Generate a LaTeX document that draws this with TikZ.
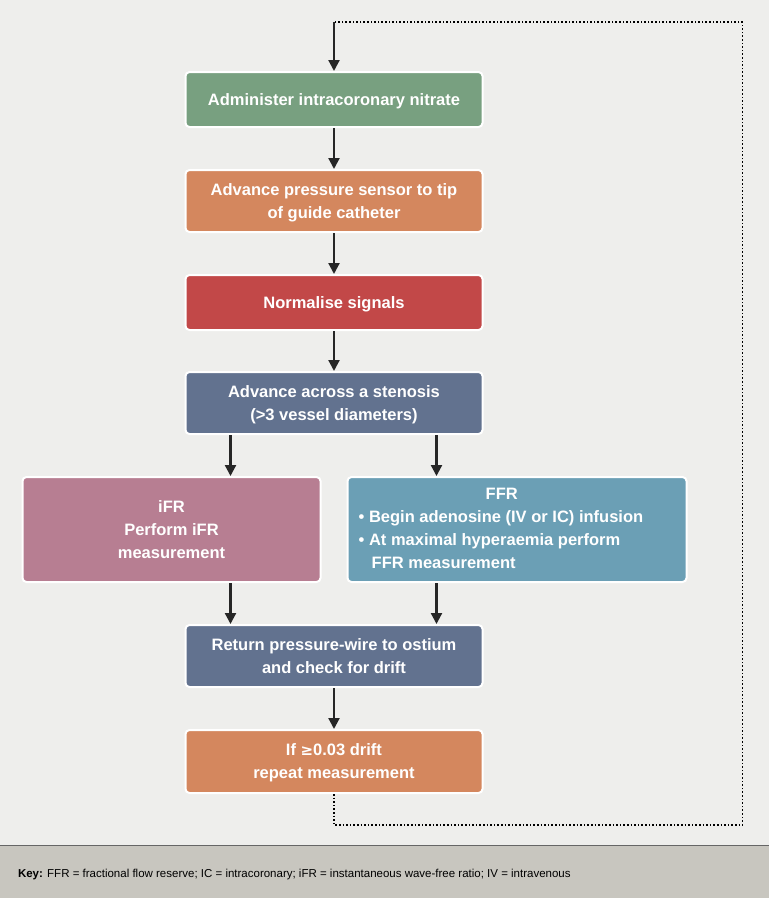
\documentclass[tikz,border=0pt]{standalone}
\usepackage{fontspec}
\setmainfont{Liberation Sans}
\usetikzlibrary{arrows.meta}
\definecolor{bg}{HTML}{EEEEEC}
\definecolor{keybg}{HTML}{C8C6BF}
\definecolor{cgreen}{HTML}{78A080}
\definecolor{corange}{HTML}{D4875E}
\definecolor{cred}{HTML}{C24848}
\definecolor{cblue}{HTML}{62728F}
\definecolor{cpink}{HTML}{B77E92}
\definecolor{cteal}{HTML}{6B9FB5}
\begin{document}
\begin{tikzpicture}[x=1pt,y=-1pt,
 bf/.style={font=\bfseries\fontsize{16.5}{23}\selectfont},
 box/.style={draw=white,line width=2pt,rounded corners=4pt,text=white,bf,align=center,inner sep=0pt,text depth=0pt},
 arr/.style={-{Triangle[length=11pt,width=11pt]},line width=2.2pt,black!85}]
\fill[bg] (0,0) rectangle (768,898);
\fill[keybg] (0,845) rectangle (768,898);
\draw[line width=1pt,black!60] (0,845) -- (768,845);
\node[anchor=west,font=\fontsize{11.5}{13}\selectfont] (key) at (14,875) {\textbf{Key:} FFR = fractional flow reserve; IC = intracoronary; iFR = instantaneous wave-free ratio; IV = intravenous};
\node[box,fill=cgreen,minimum width=297pt,minimum height=55pt] (b1) at (333.5,99.5) {Administer intracoronary nitrate};
\node[box,fill=corange,minimum width=297pt,minimum height=62pt] (b2) at (333.5,201) {Advance pressure sensor to tip\\of guide catheter};
\node[box,fill=cred,minimum width=297pt,minimum height=55pt] (b3) at (333.5,302.5) {Normalise signals};
\node[box,fill=cblue,minimum width=297pt,minimum height=62pt] (b4) at (333.5,403) {Advance across a stenosis\\(>3 vessel diameters)};
\node[box,fill=cpink,minimum width=298pt,minimum height=105pt] (b5) at (171,529.5) {iFR\\Perform iFR\\measurement};
\node[box,fill=cteal,minimum width=339pt,minimum height=105pt] (b6) at (516.5,529.5) {};
\node[text=white,bf,align=left,anchor=north west,inner sep=0pt] (b6t) at (358,488) {\hspace*{127pt}FFR\\• Begin adenosine (IV or IC) infusion\\• At maximal hyperaemia perform\\\hspace*{13pt}FFR measurement};
\node[box,fill=cblue,minimum width=297pt,minimum height=62pt] (b7) at (333.5,656) {Return pressure-wire to ostium\\and check for drift};
\node[box,fill=corange,minimum width=297pt,minimum height=63pt] (b8) at (333.5,761.5) {If {\fontspec{DejaVu Sans}\bfseries\fontsize{15}{23}\selectfont ≥}0.03 drift\\repeat measurement};
\draw[arr] (b1) -- (b2);
\draw[arr] (b2) -- (b3);
\draw[arr] (b3) -- (b4);
\draw[arr] (b4.south -| 230,0) -- (b5.north -| 230,0);
\draw[arr] (b4.south -| 436,0) -- (b6.north -| 436,0);
\draw[arr] (b5.south -| 230,0) -- (b7.north -| 230,0);
\draw[arr] (b6.south -| 436,0) -- (b7.north -| 436,0);
\draw[arr] (b7) -- (b8);
\coordinate (c1) at (742,825);
\coordinate (c2) at (742,22);
\coordinate (c3) at (333.5,22);
\draw[dotted,line width=1.6pt] (b8.south) -- (b8.south |- c1) -- (c1) -- (c2) -- (c3);
\draw[arr] (c3) -- (b1.north);
\end{tikzpicture}
\end{document}
